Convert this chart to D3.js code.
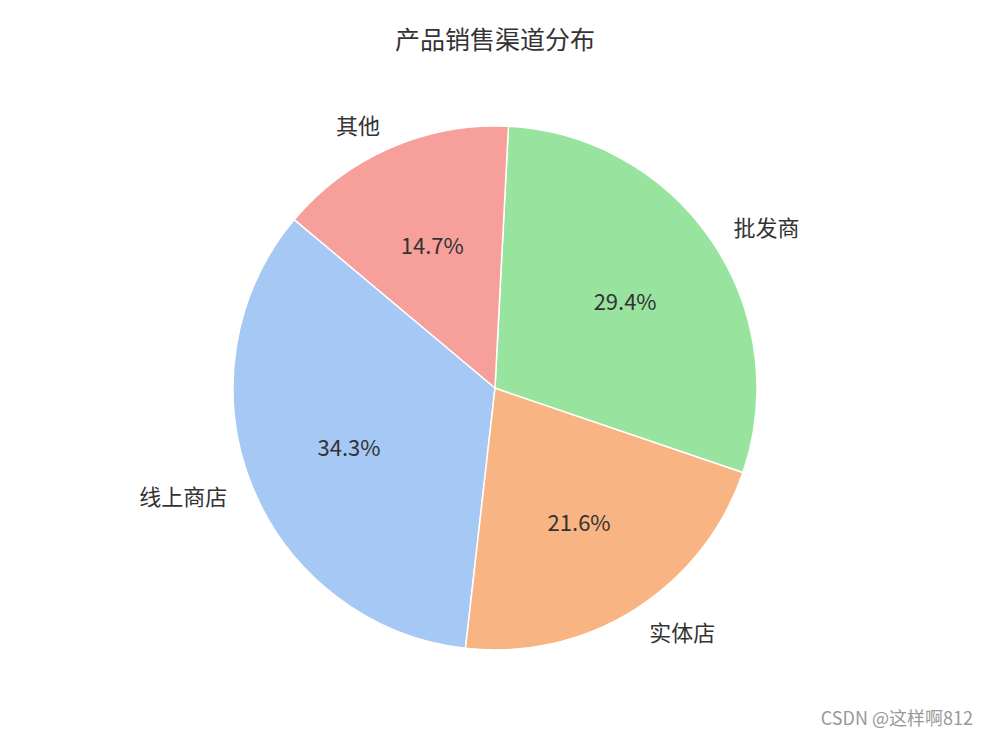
<!DOCTYPE html>
<html>
<head>
<meta charset="utf-8">
<script src="https://cdn.jsdelivr.net/npm/d3@7"></script>
<style>
  body { margin: 0; background: #fff; }
  svg text { font-family: "Noto Sans CJK SC", "Noto Sans", sans-serif; }
</style>
</head>
<body>
<svg id="chart" width="987" height="737"></svg>
<script>
// pie chart: 产品销售渠道分布
const channels = ["线上商店", "实体店", "批发商", "其他"];
const sales = [35, 22, 30, 15];
const colors = ["#a6c8f4", "#f8b482", "#98e49e", "#f69f9b"];

const width = 987, height = 737;
const cx = 495, cy = 388, radius = 262;
const startDeg = 140; // matplotlib startangle, counter-clockwise

const svg = d3.select("#chart");

svg.append("text")
  .attr("x", cx)
  .attr("y", 38)
  .attr("text-anchor", "middle")
  .attr("dominant-baseline", "central")
  .attr("fill", "#333")
  .style("font-size", "25px")
  .text("产品销售渠道分布");

const total = d3.sum(sales);
const data = channels.map((c, i) => ({ name: c, value: sales[i], color: colors[i] }));

// d3.pie goes clockwise from 12 o'clock; map matplotlib's ccw angle onto it
const toD3 = deg => (90 - deg) * Math.PI / 180;
const pie = d3.pie()
  .value(d => d.value)
  .sort(null)
  .startAngle(toD3(startDeg))
  .endAngle(toD3(startDeg + 360));

const arcs = pie(data);
const arc = d3.arc().innerRadius(0).outerRadius(radius);

const g = svg.append("g").attr("transform", `translate(${cx},${cy})`);

g.selectAll("path.slice")
  .data(arcs)
  .enter()
  .append("path")
  .attr("class", "slice")
  .attr("d", arc)
  .attr("fill", d => d.data.color)
  .attr("stroke", "#fff")
  .attr("stroke-width", 1.5);

function midPoint(d, r) {
  const a = (d.startAngle + d.endAngle) / 2;
  return [r * Math.sin(a), -r * Math.cos(a)];
}

// category labels at 1.1 r
g.selectAll("text.label")
  .data(arcs)
  .enter()
  .append("text")
  .attr("class", "label")
  .attr("x", d => midPoint(d, radius * 1.1)[0])
  .attr("y", d => midPoint(d, radius * 1.1)[1])
  .attr("text-anchor", d => midPoint(d, 1)[0] < 0 ? "end" : "start")
  .attr("dominant-baseline", "central")
  .attr("fill", "#333")
  .style("font-size", "22px")
  .text(d => d.data.name);

// percentages at 0.6 r
g.selectAll("text.pct")
  .data(arcs)
  .enter()
  .append("text")
  .attr("class", "pct")
  .attr("x", d => midPoint(d, radius * 0.6)[0])
  .attr("y", d => midPoint(d, radius * 0.6)[1])
  .attr("text-anchor", "middle")
  .attr("dominant-baseline", "central")
  .attr("fill", "#333")
  .style("font-size", "22px")
  .text(d => (d.data.value / total * 100).toFixed(1) + "%");

svg.append("text")
  .attr("x", 973)
  .attr("y", 717)
  .attr("text-anchor", "end")
  .attr("dominant-baseline", "central")
  .attr("fill", "#999")
  .style("font-size", "18px")
  .text("CSDN @这样啊812");
</script>
</body>
</html>
